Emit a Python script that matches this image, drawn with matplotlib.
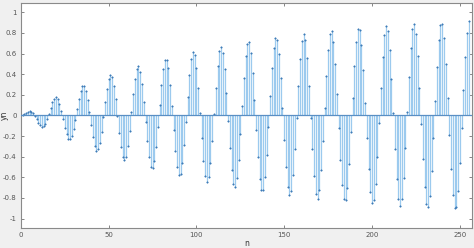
import numpy as np
import matplotlib.pyplot as plt

n = np.arange(256)
yn = [
    0.000, 0.004, 0.013, 0.026, 0.037, 0.042, 0.037, 0.022, -0.004, -0.037,
    -0.070, -0.096, -0.109, -0.104, -0.080, -0.038, 0.017, 0.075, 0.127, 0.163,
    0.175, 0.157, 0.112, 0.044, -0.036, -0.117, -0.184, -0.226, -0.232, -0.201,
    -0.135, -0.043, 0.062, 0.162, 0.241, 0.285, 0.284, 0.237, 0.150, 0.034,
    -0.093, -0.209, -0.296, -0.340, -0.329, -0.265, -0.156, -0.018, 0.128, 0.258,
    0.351, 0.390, 0.368, 0.286, 0.155, -0.004, -0.166, -0.307, -0.403, -0.435,
    -0.400, -0.299, -0.147, 0.031, 0.208, 0.356, 0.451, 0.476, 0.425, 0.305,
    0.133, -0.062, -0.252, -0.405, -0.497, -0.510, -0.442, -0.303, -0.114, 0.098,
    0.298, 0.453, 0.539, 0.540, 0.456, 0.297, 0.089, -0.137, -0.344, -0.499,
    -0.578, -0.565, -0.462, -0.285, -0.059, 0.178, 0.391, 0.544, 0.612, 0.584,
    0.463, 0.267, 0.026, -0.221, -0.437, -0.585, -0.642, -0.598, -0.459, -0.245,
    0.012, 0.268, 0.483, 0.625, 0.668, 0.606, 0.447, 0.216, -0.052, -0.314,
    -0.529, -0.661, -0.690, -0.610, -0.432, -0.184, 0.095, 0.361, 0.572, 0.694,
    0.707, 0.608, 0.411, 0.149, -0.140, -0.407, -0.613, -0.724, -0.719, -0.600,
    -0.385, -0.110, 0.186, 0.455, 0.653, 0.750, 0.728, 0.591, 0.359, 0.069,
    -0.234, -0.501, -0.689, -0.772, -0.731, -0.575, -0.326, -0.025, 0.282, 0.546,
    0.726, 0.790, 0.730, 0.555, 0.290, -0.021, -0.330, -0.590, -0.758, -0.805,
    -0.726, -0.533, -0.251, 0.069, 0.380, 0.632, 0.785, 0.815, 0.716, 0.503,
    0.209, -0.118, -0.428, -0.672, -0.811, -0.822, -0.700, -0.470, -0.165, 0.168,
    0.477, 0.711, 0.833, 0.824, 0.685, 0.436, 0.119, -0.219, -0.523, -0.745,
    -0.851, -0.822, -0.663, -0.399, -0.070, 0.270, 0.569, 0.778, 0.866, 0.817,
    0.638, 0.357, 0.020, -0.321, -0.613, -0.809, -0.877, -0.806, -0.610, -0.315,
    0.031, 0.372, 0.655, 0.836, 0.885, 0.794, 0.576, 0.267, -0.083, -0.423,
    -0.696, -0.859, -0.888, -0.777, -0.541, -0.220, 0.136, 0.472, 0.734, 0.880,
    0.888, 0.755, 0.502, 0.170, -0.189, -0.518, -0.768, -0.897, -0.883, -0.728,
    -0.459, -0.119, 0.243, 0.567, 0.802, 0.911,
]

xticks = [0, 50, 100, 150, 200, 250]
yticks = [-1, -0.8, -0.6, -0.4, -0.2, 0, 0.2, 0.4, 0.6, 0.8, 1]
ytick_labels = ['-1', '-0.8', '-0.6', '-0.4', '-0.2', '0',
                '0.2', '0.4', '0.6', '0.8', '1']

fig = plt.figure(figsize=(4.74, 2.48), dpi=100, facecolor='#f0f0f0')
ax = fig.add_axes([0.044, 0.081, 0.952, 0.907])
ax.set_facecolor('white')

markers, stems, base = ax.stem(n, yn, basefmt=' ')
plt.setp(stems, color='#9ccaee', linewidth=0.9)
plt.setp(markers, marker='o', markersize=1.1, markerfacecolor='#3f7cb8',
         markeredgecolor='#3f7cb8', markeredgewidth=0.3)
ax.axhline(0, color='#5a8fc4', linewidth=0.9, zorder=3)

ax.set_xlim(0, 257)
ax.set_ylim(-1.09, 1.09)
ax.set_xticks(xticks)
ax.set_xticklabels([str(t) for t in xticks])
ax.set_yticks(yticks)
ax.set_yticklabels(ytick_labels)
ax.tick_params(direction='in', length=2.5, width=0.5, colors='#555555',
               labelsize=5, top=True, right=True, pad=3)
for s in ax.spines.values():
    s.set_color('#8a8a8a')
    s.set_linewidth(0.8)

ax.set_xlabel('n', fontsize=5.5, color='#333333', labelpad=1)
ax.set_ylabel('yn', fontsize=5.5, color='#333333')
ax.yaxis.set_label_coords(-0.026, 0.5)

fig.savefig('out.png', dpi=100, facecolor=fig.get_facecolor())
